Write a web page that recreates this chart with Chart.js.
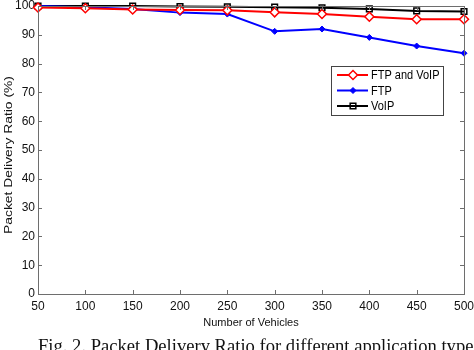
<!DOCTYPE html>
<html>
<head>
<meta charset="utf-8">
<script src="https://cdn.jsdelivr.net/npm/chart.js@4.4.0/dist/chart.umd.min.js"></script>
<style>
  html, body { margin: 0; padding: 0; background: #fff; }
  #wrap { width: 474px; height: 350px; }
</style>
</head>
<body>
<div id="wrap"><canvas id="pdrChart" width="474" height="350"></canvas></div>
<script>
const vehicles = [50, 100, 150, 200, 250, 300, 350, 400, 450, 500];
const ftpVoip = [99.5, 99.2, 98.8, 98.6, 98.5, 97.8, 97.2, 96.3, 95.4, 95.4];
const ftp = [100, 99.6, 99.0, 97.7, 97.2, 91.2, 92.0, 89.1, 86.1, 83.6];
const voip = [100, 100, 100, 99.8, 99.7, 99.6, 99.4, 99.0, 98.3, 98.1];
const yTicks = [0, 10, 20, 30, 40, 50, 60, 70, 80, 90, 100];
const yTitle = 'Packet Delivery Ratio (%)';
const caption = 'Fig. 2. Packet Delivery Ratio for different application type';

const axisGray = '#6e6e6e';
const sans = '"Liberation Sans", Arial, sans-serif';

function toPoints(values) {
  return values.map((v, i) => ({ x: vehicles[i], y: v }));
}

// box around plot area with matlab-style inward ticks
const framePlugin = {
  id: 'frame',
  afterDraw(chart) {
    const { ctx, chartArea: a, scales } = chart;
    ctx.save();
    ctx.strokeStyle = axisGray;
    ctx.lineWidth = 1;
    ctx.strokeRect(a.left + 0.5, a.top + 0.5, a.right - a.left, a.bottom - a.top);
    const len = 4;
    ctx.beginPath();
    vehicles.forEach(v => {
      const x = Math.round(scales.x.getPixelForValue(v)) + 0.5;
      ctx.moveTo(x, a.bottom); ctx.lineTo(x, a.bottom - len);
      ctx.moveTo(x, a.top); ctx.lineTo(x, a.top + len);
    });
    yTicks.forEach(v => {
      const y = Math.round(scales.y.getPixelForValue(v)) + 0.5;
      ctx.moveTo(a.left, y); ctx.lineTo(a.left + len, y);
      ctx.moveTo(a.right, y); ctx.lineTo(a.right - len, y);
    });
    ctx.stroke();

    // y title, stretched along its length like the source figure
    ctx.translate(9, 155);
    ctx.rotate(-Math.PI / 2);
    ctx.scale(1.26, 1);
    ctx.fillStyle = '#111';
    ctx.font = '11px ' + sans;
    ctx.textAlign = 'center';
    ctx.textBaseline = 'middle';
    ctx.fillText(yTitle, 0, 0);
    ctx.restore();
  }
};

// legend drawn inside the plot, like the matlab figure
const boxLegendPlugin = {
  id: 'boxLegend',
  afterDatasetsDraw(chart) {
    const { ctx } = chart;
    const bx = 331, by = 66, bw = 112, bh = 49;
    ctx.save();
    ctx.fillStyle = '#fff';
    ctx.fillRect(bx, by, bw, bh);
    ctx.strokeStyle = '#444';
    ctx.lineWidth = 1;
    ctx.strokeRect(bx + 0.5, by + 0.5, bw, bh);
    chart.data.datasets.forEach((ds, i) => {
      const y = by + 9 + i * 15.5;
      ctx.strokeStyle = ds.borderColor;
      ctx.lineWidth = 2;
      ctx.beginPath();
      ctx.moveTo(bx + 6, y); ctx.lineTo(bx + 37, y);
      ctx.stroke();
      ctx.fillStyle = ds.pointBackgroundColor;
      ctx.strokeStyle = ds.borderColor;
      ctx.lineWidth = ds.pointBorderWidth;
      Chart.helpers.drawPoint(ctx, {
        pointStyle: ds.pointStyle,
        radius: ds.pointRadius,
        borderWidth: ds.pointBorderWidth
      }, bx + 22, y);
      ctx.save();
      ctx.translate(bx + 40, y + 1);
      ctx.scale(1, 1.15);
      ctx.fillStyle = '#000';
      ctx.font = '11px ' + sans;
      ctx.textBaseline = 'middle';
      ctx.fillText(ds.label, 0, 0);
      ctx.restore();
    });
    ctx.restore();
  }
};

const captionPlugin = {
  id: 'caption',
  afterDraw(chart) {
    const { ctx } = chart;
    ctx.save();
    ctx.fillStyle = '#111';
    ctx.font = '18.6px "Liberation Serif", "Times New Roman", serif';
    ctx.textAlign = 'left';
    ctx.textBaseline = 'alphabetic';
    ctx.fillText(caption, 38, 352);
    ctx.restore();
  }
};

new Chart(document.getElementById('pdrChart'), {
  type: 'line',
  data: {
    datasets: [
      {
        label: 'FTP and VoIP',
        data: toPoints(ftpVoip),
        borderColor: '#ff0000',
        backgroundColor: '#ff0000',
        pointBackgroundColor: '#ffffff',
        borderWidth: 2,
        pointStyle: 'rectRot',
        pointRadius: 4.5,
        pointBorderWidth: 1.5
      },
      {
        label: 'FTP',
        data: toPoints(ftp),
        borderColor: '#0000ff',
        backgroundColor: '#0000ff',
        pointBackgroundColor: '#0000ff',
        borderWidth: 2,
        pointStyle: 'rectRot',
        pointRadius: 3,
        pointBorderWidth: 1
      },
      {
        label: 'VoIP',
        data: toPoints(voip),
        borderColor: '#000000',
        backgroundColor: '#000000',
        pointBackgroundColor: 'rgba(255,255,255,0)',
        borderWidth: 2,
        pointStyle: 'rect',
        pointRadius: 4,
        pointBorderWidth: 1.5
      }
    ]
  },
  options: {
    responsive: false,
    animation: false,
    clip: false,
    layout: { padding: { top: 5, right: 10, bottom: 20, left: 0 } },
    plugins: {
      legend: { display: false },
      tooltip: { enabled: false }
    },
    scales: {
      x: {
        type: 'linear',
        min: 50,
        max: 500,
        afterFit: scale => {
          scale.height = 36;
          scale.paddingLeft = 0;
          scale.paddingRight = 0;
        },
        afterBuildTicks: scale => { scale.ticks = vehicles.map(v => ({ value: v })); },
        grid: { display: false, drawTicks: false },
        border: { display: false },
        ticks: {
          color: '#111',
          padding: 5,
          maxRotation: 0,
          font: { family: sans, size: 12 }
        },
        title: {
          display: true,
          text: 'Number of Vehicles',
          color: '#111',
          padding: { top: 0, bottom: 0 },
          font: { family: sans, size: 11 }
        }
      },
      y: {
        min: 0,
        max: 100,
        afterFit: scale => {
          scale.width = 38;
          scale.paddingTop = 0;
          scale.paddingBottom = 0;
        },
        afterBuildTicks: scale => { scale.ticks = yTicks.map(v => ({ value: v })); },
        grid: { display: false, drawTicks: false },
        border: { display: false },
        ticks: {
          color: '#111',
          padding: 3,
          font: { family: sans, size: 12 }
        }
      }
    }
  },
  plugins: [framePlugin, boxLegendPlugin, captionPlugin]
});
</script>
</body>
</html>
